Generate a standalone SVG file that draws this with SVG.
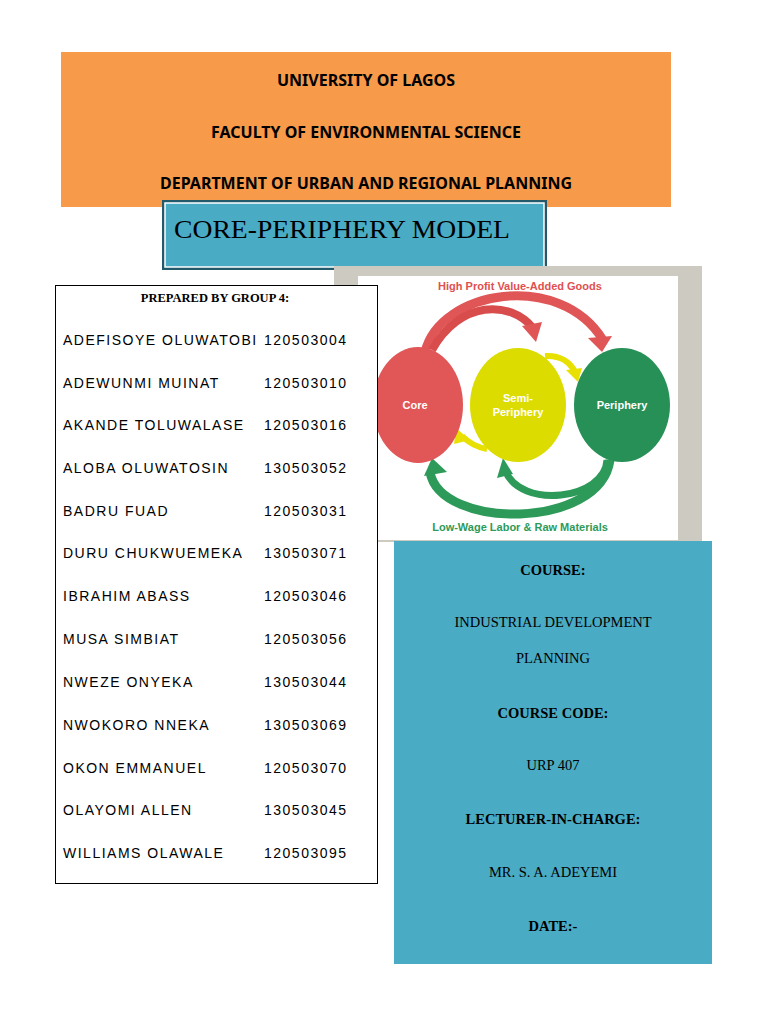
<svg xmlns="http://www.w3.org/2000/svg" width="768" height="1024" viewBox="0 0 768 1024">
<style>
.h{font-family:"Noto Sans","DejaVu Sans",sans-serif;font-weight:bold;font-size:16px;text-anchor:middle;fill:#000}
.n{font-family:"Liberation Sans",Arial,sans-serif;font-size:14px;letter-spacing:1.5px;fill:#000}
.c{font-family:"Liberation Serif",serif;font-size:14.5px;text-anchor:middle;fill:#000}
.cb{font-family:"Liberation Serif",serif;font-size:14.5px;font-weight:bold;text-anchor:middle;fill:#000}
.w{font-family:"Liberation Sans",Arial,sans-serif;font-weight:bold;font-size:11px;text-anchor:middle;fill:#fff}
</style>
<rect width="768" height="1024" fill="#fff"/>
<g id="header">
<rect x="61" y="52" width="610" height="155" fill="#f79a4a"/>
<text class="h" x="366" y="86">UNIVERSITY OF LAGOS</text>
<text class="h" x="366" y="138">FACULTY OF ENVIRONMENTAL SCIENCE</text>
<text class="h" x="366" y="189">DEPARTMENT OF URBAN AND REGIONAL PLANNING</text>
</g>
<g id="title">
<rect x="162" y="200" width="385" height="70" fill="#235a6b"/>
<rect x="165" y="203" width="379" height="64" fill="#4aabc5" stroke="#fff" stroke-width="1.5"/>
<text x="174" y="238" font-family="Liberation Serif,serif" font-size="26" fill="#000" textLength="336" lengthAdjust="spacingAndGlyphs">CORE-PERIPHERY MODEL</text>
</g>
<g id="figure">
<rect x="334" y="266" width="368" height="276" fill="#cdcac2"/>
<rect x="358" y="276" width="320" height="264" fill="#fff"/>
<text x="520" y="290" font-family="Liberation Sans,Arial,sans-serif" font-weight="bold" font-size="11" fill="#e05050" text-anchor="middle">High Profit Value-Added Goods</text>
<path d="M425 352 C440 290 560 270 603 340" fill="none" stroke="#e05555" stroke-width="9"/>
<polygon points="588,338 612,336 602,352" fill="#e05555"/>
<path d="M432 350 C460 300 510 300 533 328" fill="none" stroke="#d84c4c" stroke-width="8"/>
<polygon points="522,326 542,322 536,342" fill="#e05555"/>
<path d="M545 356 C560 355 570 362 575 372" fill="none" stroke="#e8e000" stroke-width="6"/>
<polygon points="566,370 582,368 578,382" fill="#e8e000"/>
<path d="M487 449 C475 447 468 442 462 436" fill="none" stroke="#e8e000" stroke-width="6"/>
<polygon points="456,428 470,440 454,444" fill="#e8e000"/>
<path d="M607 460 C605 500 520 510 505 470" fill="none" stroke="#2d9a5a" stroke-width="7"/>
<polygon points="497,478 503,458 513,474" fill="#2d9a5a"/>
<path d="M610 460 C600 530 440 530 430 472" fill="none" stroke="#2d9a5a" stroke-width="9"/>
<polygon points="424,476 432,458 447,472" fill="#2d9a5a"/>
<ellipse cx="418" cy="405" rx="45" ry="58" fill="#e15656"/>
<ellipse cx="518" cy="405" rx="48" ry="57" fill="#dcdc00"/>
<ellipse cx="622" cy="405" rx="48" ry="57" fill="#269056"/>
<text class="w" x="415" y="409">Core</text>
<text class="w" x="518" y="402">Semi-</text>
<text class="w" x="518" y="416">Periphery</text>
<text class="w" x="622" y="409">Periphery</text>
<text x="520" y="531" font-family="Liberation Sans,Arial,sans-serif" font-weight="bold" font-size="11" fill="#2d9a5a" text-anchor="middle">Low-Wage Labor &amp; Raw Materials</text>
</g>
<g id="members">
<rect x="55.5" y="285.5" width="322" height="598" fill="#fff" stroke="#000"/>
<text x="215" y="302" text-anchor="middle" font-family="Liberation Serif,serif" font-weight="bold" font-size="12.5">PREPARED BY GROUP 4:</text>
<g class="n">
<text x="63" y="345">ADEFISOYE OLUWATOBI</text><text x="264" y="345">120503004</text>
<text x="63" y="388">ADEWUNMI MUINAT</text><text x="264" y="388">120503010</text>
<text x="63" y="430">AKANDE TOLUWALASE</text><text x="264" y="430">120503016</text>
<text x="63" y="473">ALOBA OLUWATOSIN</text><text x="264" y="473">130503052</text>
<text x="63" y="516">BADRU FUAD</text><text x="264" y="516">120503031</text>
<text x="63" y="558">DURU CHUKWUEMEKA</text><text x="264" y="558">130503071</text>
<text x="63" y="601">IBRAHIM ABASS</text><text x="264" y="601">120503046</text>
<text x="63" y="644">MUSA SIMBIAT</text><text x="264" y="644">120503056</text>
<text x="63" y="687">NWEZE ONYEKA</text><text x="264" y="687">130503044</text>
<text x="63" y="730">NWOKORO NNEKA</text><text x="264" y="730">130503069</text>
<text x="63" y="773">OKON EMMANUEL</text><text x="264" y="773">120503070</text>
<text x="63" y="815">OLAYOMI ALLEN</text><text x="264" y="815">130503045</text>
<text x="63" y="858">WILLIAMS OLAWALE</text><text x="264" y="858">120503095</text>
</g>
</g>
<g id="course">
<rect x="394" y="541" width="318" height="423" fill="#4aabc5"/>
<text class="cb" x="553" y="575">COURSE:</text>
<text class="c" x="553" y="627">INDUSTRIAL DEVELOPMENT</text>
<text class="c" x="553" y="663">PLANNING</text>
<text class="cb" x="553" y="718">COURSE CODE:</text>
<text class="c" x="553" y="770">URP 407</text>
<text class="cb" x="553" y="824">LECTURER-IN-CHARGE:</text>
<text class="c" x="553" y="877">MR. S. A. ADEYEMI</text>
<text class="cb" x="553" y="931">DATE:-</text>
</g>
</svg>
